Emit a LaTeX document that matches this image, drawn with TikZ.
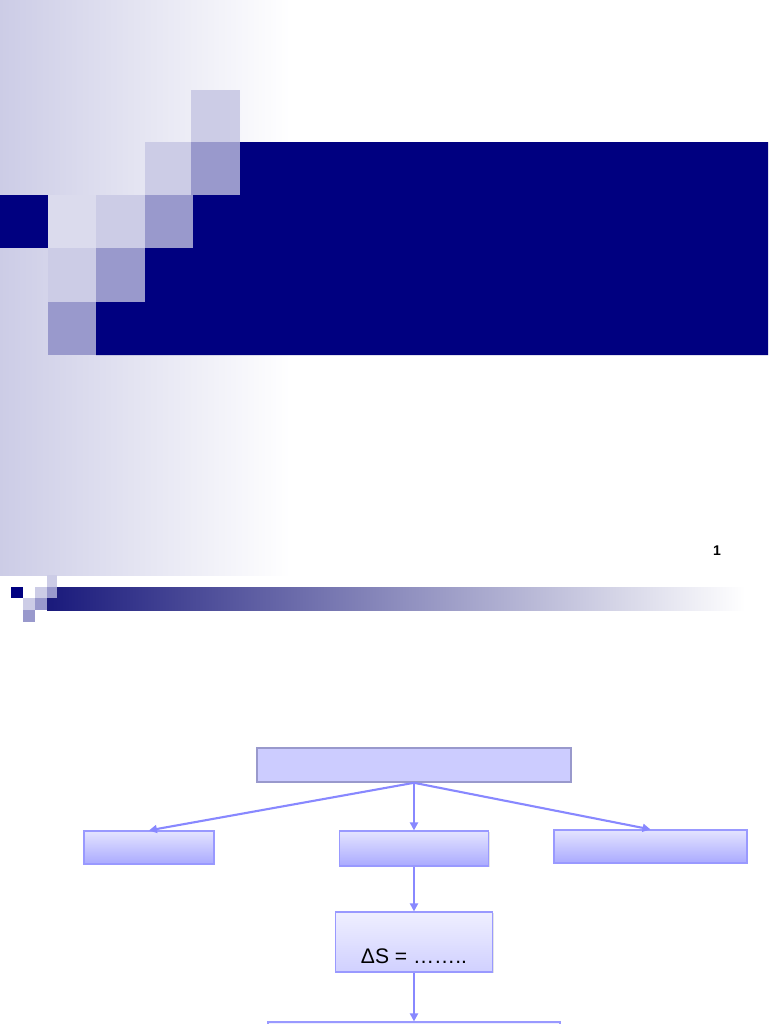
\documentclass[tikz,border=0pt]{standalone}
\usepackage{fontspec}
\setmainfont{Liberation Sans}
\usetikzlibrary{arrows.meta}
\usetikzlibrary{shadows}

\definecolor{navy}{RGB}{0,0,128}
\definecolor{pale}{RGB}{204,204,230}
\definecolor{mauve}{RGB}{153,153,204}
\definecolor{lineblue}{RGB}{136,136,255}
\definecolor{boxedge}{RGB}{153,153,255}
\definecolor{boxtop}{RGB}{228,228,255}
\definecolor{boxbot}{RGB}{170,170,255}

\tikzset{
  flowbox/.style={draw=boxedge, line width=0.7pt, top color=boxtop, bottom color=boxbot,
    minimum height=0.66cm, inner sep=0pt,
    drop shadow={opacity=0.2, shadow xshift=0.6pt, shadow yshift=-0.8pt}},
  headbox/.style={draw=mauve, line width=0.9pt, fill=boxbot!60!white,
    minimum width=6.28cm, minimum height=0.68cm, inner sep=0pt},
  link/.style={lineblue, line width=1.2pt, -{Triangle[length=4.5pt,width=4.5pt]}}
}

\begin{document}
\begin{tikzpicture}[x=0.02cm, y=-0.02cm]
\clip (0,0) rectangle (768,1024);
\fill[white] (0,0) rectangle (768,1024);

% slide background
\shade[left color=pale, right color=white] (0,0) rectangle (290,575);
\fill[navy] (240,142) -- (768,142) -- (768,355) -- (96,355) -- (96,302) -- (145,302)
  -- (145,248) -- (193,248) -- (193,195) -- (240,195) -- cycle;
\fill[navy] (0,195) rectangle (48,248);
\fill[pale] (191,90) rectangle (240,142);
\fill[pale] (145,142) rectangle (191,195);
\fill[mauve] (191,142) rectangle (240,195);
\fill[pale!70!white] (48,195) rectangle (96,248);
\fill[pale] (96,195) rectangle (145,248);
\fill[mauve] (145,195) rectangle (193,248);
\fill[pale] (48,248) rectangle (96,302);
\fill[mauve] (96,248) rectangle (145,302);
\fill[mauve] (48,302) rectangle (96,355);

% page number
\node[font=\fontsize{8}{9}\selectfont\bfseries] (pagenum) at (717,551) {1};

% bottom bar
\shade[left color=navy!85!black!90!white, right color=white] (47,587) rectangle (745,610);
\fill[navy] (11,587) rectangle (23,598);
\fill[pale] (47,575) rectangle (57,587);
\fill[pale] (35,587) rectangle (47,598);
\fill[mauve] (47,587) rectangle (57,598);
\fill[pale] (23,598) rectangle (35,610);
\fill[mauve] (35,598) rectangle (47,610);
\fill[mauve] (23,610) rectangle (35,622);

% flow chart
\node[headbox] (head) at (414,765) {};
\node[flowbox, minimum width=2.6cm] (leftbox) at (149,847.5) {};
\node[flowbox, minimum width=2.98cm, minimum height=0.7cm] (midbox) at (414,848.5) {};
\node[flowbox, minimum width=3.86cm] (rightbox) at (650.5,846.5) {};
\node[flowbox, minimum width=3.14cm, minimum height=1.2cm,
  top color=boxtop!60!white, bottom color=boxbot!55!white] (entropy) at (414,942) {};
\node[font=\fontsize{12}{14}\selectfont] (entropytext) at (414,956) {ΔS = ……..};
\node[flowbox, minimum width=5.84cm, minimum height=0.68cm,
  top color=boxtop!60!white, bottom color=boxtop!60!white] (lastbox) at (414,1039) {};

\draw[link] (head.south) -- (leftbox.north);
\draw[link] (head.south) -- (midbox.north);
\draw[link] (head.south) -- (rightbox.north);
\draw[link] (midbox.south) -- (entropy.north);
\draw[link] (entropy.south) -- (lastbox.north);
\end{tikzpicture}
\end{document}
